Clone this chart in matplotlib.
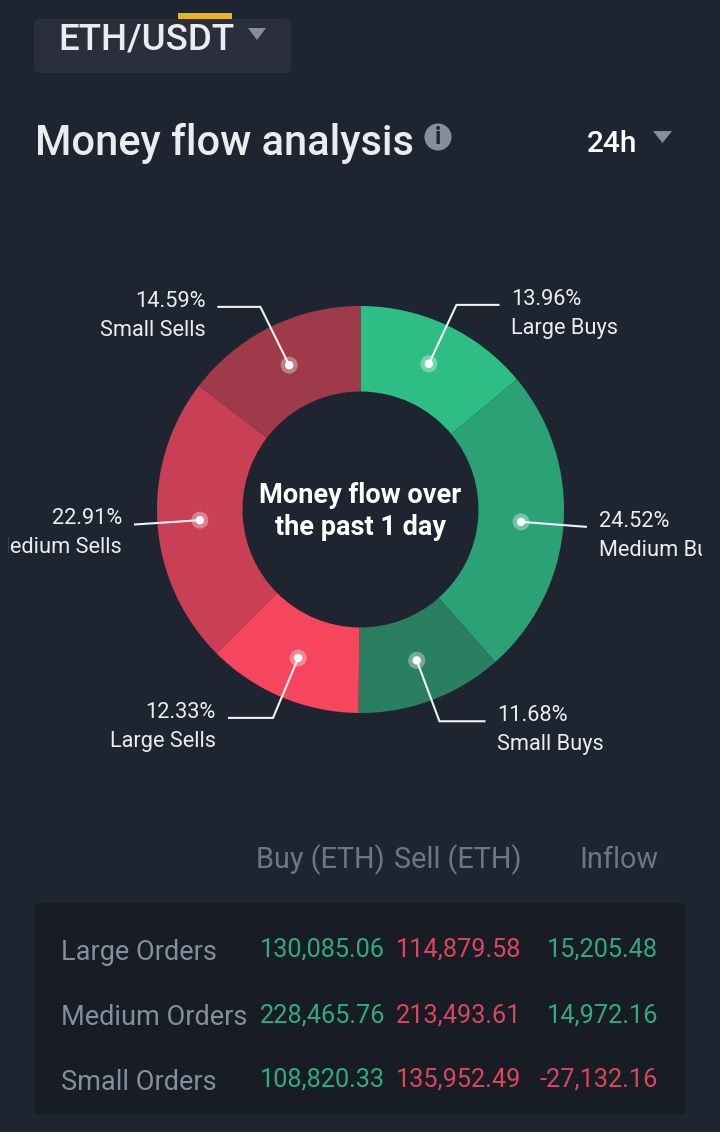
import numpy as np
import matplotlib
matplotlib.use("Agg")
import matplotlib.pyplot as plt
from matplotlib.patches import Circle, FancyBboxPatch, Polygon, Rectangle
from matplotlib.transforms import Bbox

# ── data ──────────────────────────────────────────────
slice_names = ["Large Buys", "Medium Buys", "Small Buys", "Large Sells", "Medium Sells", "Small Sells"]
slice_pcts = [13.96, 24.52, 11.68, 12.33, 22.91, 14.59]
slice_colors = ["#2EBD85", "#2BA275", "#2A7F60", "#F6465D", "#C94056", "#9F3A4B"]
leader_tails = [42, 0, 45, 44, 0, 42]

col_headers = ["Buy (ETH)", "Sell (ETH)", "Inflow"]
row_names = ["Large Orders", "Medium Orders", "Small Orders"]
buy_vals = ["130,085.06", "228,465.76", "108,820.33"]
sell_vals = ["114,879.58", "213,493.61", "135,952.49"]
inflow_vals = ["15,205.48", "14,972.16", "-27,132.16"]

# ── colours ───────────────────────────────────────────
BG = "#1F2530"
PANEL = "#2A2F3B"
TABLE_BG = "#181D25"
GREY = "#848E9C"
MUTED = "#6E7583"
LIGHT = "#EAECEF"
GREEN = "#33A97E"
RED = "#D9475C"

plt.rcParams["font.family"] = ["Roboto", "DejaVu Sans"]

fig = plt.figure(figsize=(7.2, 11.32), dpi=100, facecolor=BG)
ax = fig.add_axes([0, 0, 1, 1])

# donut, axes are in image pixels so y runs downwards and the pie goes clockwise
CX, CY = 360.5, 509.5
R_OUT, R_IN = 203.5, 118
ax.pie(slice_pcts, colors=slice_colors, center=(CX, CY), radius=R_OUT, startangle=-90,
       counterclock=True, wedgeprops={"width": R_OUT - R_IN, "linewidth": 0})
ax.set_xlim(0, 720)
ax.set_ylim(1132, 0)
ax.set_aspect("auto")
ax.axis("off")

# header
ax.add_patch(FancyBboxPatch((34, 19), 257, 54, boxstyle="round,pad=0,rounding_size=6",
                            fc=PANEL, ec="none"))
ax.add_patch(Rectangle((178, 13), 54, 6, fc="#E9B41E", ec="none"))
ax.text(58, 50, "ETH/USDT", fontsize=26.5, fontweight="medium", color=LIGHT, va="baseline", ha="left")
ax.add_patch(Polygon([(248, 28), (266, 28), (257, 40)], fc=GREY, ec="none"))

ax.text(35, 155, "Money flow analysis", fontsize=30, fontweight="medium", color=LIGHT, va="baseline")
ax.add_patch(Circle((438, 137), 13.5, fc=GREY, ec="none"))
ax.text(438, 137.5, "i", fontsize=17, fontweight="bold", color=BG, ha="center", va="center")
ax.text(587, 152, "24h", fontsize=21.5, fontweight="medium", color="white", va="baseline")
ax.add_patch(Polygon([(653, 131), (672, 131), (662.5, 143)], fc=GREY, ec="none"))

# leader lines and labels, placed from the slice mid angles
clip = Bbox([[8, 0], [702, 1132]])
mids = (np.cumsum(slice_pcts) - np.array(slice_pcts) / 2) / 100 * 2 * np.pi
for name, pct, mid, tail in zip(slice_names, slice_pcts, mids, leader_tails):
    sx, cy_ = np.sin(mid), -np.cos(mid)
    dot = (CX + 161 * sx, CY + 161 * cy_)
    elbow = (CX + 226 * sx, CY + 226 * cy_)
    side = 1 if sx > 0 else -1
    end_x = elbow[0] + side * tail
    ax.plot([dot[0], elbow[0], end_x], [dot[1], elbow[1], elbow[1]], color="#F0F1F3", lw=1.5,
            solid_joinstyle="miter", zorder=5)
    ax.add_patch(Circle(dot, 8.5, fc="white", alpha=0.35, ec="none", zorder=6))
    ax.add_patch(Circle(dot, 4.2, fc="white", ec="none", zorder=7))
    ha = "left" if side > 0 else "right"
    tx = end_x + side * 13
    for text, dy in ((f"{pct:.2f}%", 0), (name, 29)):
        t = ax.text(tx, elbow[1] + dy, text, fontsize=15.7, color=LIGHT, ha=ha, va="baseline", zorder=8)
        t.set_clip_box(clip)
        t.set_clip_on(True)

ax.text(CX, 503, "Money flow over", fontsize=19.5, fontweight="bold", color="white", ha="center", va="baseline")
ax.text(CX, 535, "the past 1 day", fontsize=19.5, fontweight="bold", color="white", ha="center", va="baseline")

# table
col_right = [385, 521, 658]
for x, head in zip(col_right, col_headers):
    ax.text(x, 868, head, fontsize=20.8, color=MUTED, ha="right", va="baseline")

ax.add_patch(FancyBboxPatch((34, 903), 652, 211, boxstyle="round,pad=0,rounding_size=4",
                            fc=TABLE_BG, ec="none"))
row_base = [957, 1022, 1087]
for i, y in enumerate(row_base):
    ax.text(61, y + 3, row_names[i], fontsize=19.5, color=GREY, va="baseline")
    ax.text(col_right[0], y, buy_vals[i], fontsize=18.2, color=GREEN, ha="right", va="baseline")
    ax.text(col_right[1], y, sell_vals[i], fontsize=18.2, color=RED, ha="right", va="baseline")
    flow_color = RED if inflow_vals[i].startswith("-") else GREEN
    ax.text(col_right[2], y, inflow_vals[i], fontsize=18.2, color=flow_color, ha="right", va="baseline")

fig.savefig("out.png", dpi=100, facecolor=BG)
